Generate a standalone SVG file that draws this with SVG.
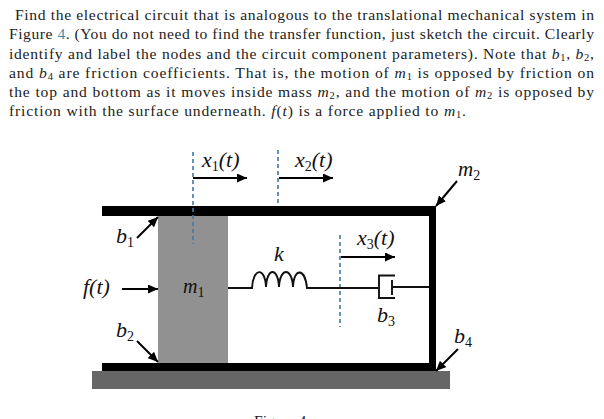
<svg xmlns="http://www.w3.org/2000/svg" width="604" height="419" viewBox="0 0 604 419">
<style>
.p{font-family:"Liberation Serif","Times New Roman",serif;font-size:15.6px;fill:#222}
.m{font-family:"Liberation Serif","Times New Roman",serif;font-style:italic;font-size:22px;fill:#111}
.s{font-size:14px;font-style:normal}
.i{font-style:italic}
.u{font-size:10.5px}
.a{stroke:#000;stroke-width:2;fill:none;marker-end:url(#h)}
.d{stroke:#3f78b0;stroke-width:1.6;stroke-dasharray:4 3;fill:none}
.l{stroke:#111;stroke-width:1.9;fill:none}
</style>
<defs><marker id="h" markerUnits="userSpaceOnUse" markerWidth="11" markerHeight="9" refX="10" refY="4.500" orient="auto"><path d="M0 0L10 4.500L0 9Z" fill="#000"/></marker></defs>
<rect width="604" height="419" fill="#fff"/>
<g id="problem-text">
<text class="p" x="15" y="20" textLength="579" lengthAdjust="spacing">Find the electrical circuit that is analogous to the translational mechanical system in</text>
<text class="p" x="9" y="39" textLength="585" lengthAdjust="spacing">Figure <tspan fill="#4a8aa0">4</tspan>. (You do not need to find the transfer function, just sketch the circuit. Clearly</text>
<text class="p" x="9" y="59" textLength="585" lengthAdjust="spacing">identify and label the nodes and the circuit component parameters). Note that <tspan class="i">b</tspan><tspan class="u" dy="2">1</tspan><tspan dy="-2">, </tspan><tspan class="i">b</tspan><tspan class="u" dy="2">2</tspan><tspan dy="-2">,</tspan></text>
<text class="p" x="9" y="78" textLength="585" lengthAdjust="spacing">and <tspan class="i">b</tspan><tspan class="u" dy="2">4</tspan><tspan dy="-2"> are friction coefficients.  That is, the motion of </tspan><tspan class="i">m</tspan><tspan class="u" dy="2">1</tspan><tspan dy="-2"> is opposed by friction on</tspan></text>
<text class="p" x="9" y="97" textLength="585" lengthAdjust="spacing">the top and bottom as it moves inside mass <tspan class="i">m</tspan><tspan class="u" dy="2">2</tspan><tspan dy="-2">, and the motion of </tspan><tspan class="i">m</tspan><tspan class="u" dy="2">2</tspan><tspan dy="-2"> is opposed by</tspan></text>
<text class="p" x="9" y="116" textLength="457" lengthAdjust="spacing">friction with the surface underneath. <tspan class="i">f</tspan>(<tspan class="i">t</tspan>) is a force applied to <tspan class="i">m</tspan><tspan class="u" dy="2">1</tspan><tspan dy="-2">.</tspan></text>
</g>
<g id="ground"><rect x="92" y="371" width="358" height="18" fill="#666"/></g>
<g id="m1"><rect x="158" y="216" width="70" height="147" fill="#919191"/>
<text class="m" x="183" y="293" style="font-size:20px">m<tspan class="s" dy="4">1</tspan></text></g>
<g id="m2"><path d="M102 206H436V371H102V363H429V216H102Z" fill="#000"/>
<text class="m" x="458" y="176" style="font-size:21px">m<tspan class="s" dy="4">2</tspan></text></g>
<g id="connectors">
<path class="d" d="M193 152V244"/>
<path class="d" d="M278 150V206"/>
<path class="d" d="M340 235V327"/>
<path class="a" d="M193 178H247"/>
<path class="a" d="M279 178H333"/>
<path class="a" d="M341 257H395"/>
<path class="a" d="M137 238L158 217"/>
<path class="a" d="M137 341L158 362"/>
<path class="a" d="M122 289H158"/>
<path class="a" d="M457 181L436 206"/>
<path class="a" d="M458 349L436 371"/>
<path class="l" d="M228 288H252C253 268 265 266 266 287C267 267 278 267 279 287C280 267 292 267 293 287C294 267 305 268 307 288H378"/>
<path class="l" d="M395 275.500H379V298H395M392 280V295M392 287H429"/>
</g>
<g id="labels">
<text class="m" x="202" y="167">x<tspan class="s" dy="4">1</tspan><tspan dy="-4">(t)</tspan></text>
<text class="m" x="295" y="167">x<tspan class="s" dy="4">2</tspan><tspan dy="-4">(t)</tspan></text>
<text class="m" x="357" y="245">x<tspan class="s" dy="4">3</tspan><tspan dy="-4">(t)</tspan></text>
<text class="m" x="274" y="261">k</text>
<text class="m" x="116" y="243">b<tspan class="s" dy="4">1</tspan></text>
<text class="m" x="116" y="337">b<tspan class="s" dy="4">2</tspan></text>
<text class="m" x="377" y="322">b<tspan class="s" dy="4">3</tspan></text>
<text class="m" x="454" y="343">b<tspan class="s" dy="4">4</tspan></text>
<text class="m" x="83" y="294">f(t)</text>
<text class="p" x="254" y="426">Figure 4</text>
</g>
</svg>
